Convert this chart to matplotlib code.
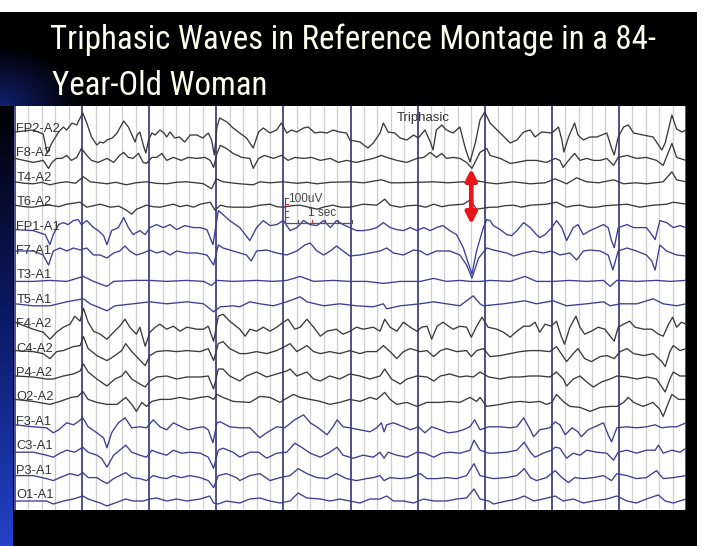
import matplotlib
matplotlib.use("Agg")
import matplotlib.pyplot as plt
import numpy as np
from matplotlib import font_manager
from matplotlib.patches import Rectangle
from matplotlib.colors import LinearSegmentedColormap

# ---------------- data ----------------
TITLE_LINE1 = "Triphasic Waves in Reference Montage in a 84-"
TITLE_LINE2 = "Year-Old Woman"

CHANNELS = ["FP2-A2", "F8-A2", "T4-A2", "T6-A2", "FP1-A1", "F7-A1", "T3-A1", "T5-A1",
            "F4-A2", "C4-A2", "P4-A2", "O2-A2", "F3-A1", "C3-A1", "P3-A1", "O1-A1"]

# (time s, amplitude uV)
FP2_A2 = [(0.00, 8), (0.27, 16), (0.42, 0), (0.48, -76), (0.55, -36), (0.65, 8), (0.72, 28), (0.77, 16), (0.85, 44), (0.92, 36), (0.97, 64), (1.01, 84), (1.07, 44), (1.14, -12), (1.22, -44), (1.27, -32), (1.32, -36), (1.37, -24), (1.45, -16), (1.52, 4), (1.57, 28), (1.62, 52), (1.69, 28), (1.79, -32), (1.82, -4), (1.86, 8), (1.92, -52), (1.95, -76), (1.99, -24), (2.04, 4), (2.09, -4), (2.16, 16), (2.22, 4), (2.26, -12), (2.31, 8), (2.38, -16), (2.45, -12), (2.53, -32), (2.61, -4), (2.71, -4), (2.80, -16), (2.88, 4), (2.93, -24), (2.97, -84), (3.01, 28), (3.05, 64), (3.16, 48), (3.25, 24), (3.35, 4), (3.45, -16), (3.55, -56), (3.63, 8), (3.70, 24), (3.80, 4), (3.90, 16), (3.97, 44), (4.05, 4), (4.12, 16), (4.20, 8), (4.30, 24), (4.37, 28), (4.47, 4), (4.55, 8), (4.65, 4), (4.74, 16), (4.84, 8), (4.94, 4), (4.99, -24), (5.14, -32), (5.26, -56), (5.34, -36), (5.44, 4), (5.49, 44), (5.56, 8), (5.66, 4), (5.74, -16), (5.84, -24), (5.94, -4), (6.01, -16), (6.11, 16), (6.19, -32), (6.23, -64), (6.28, 16), (6.36, 36), (6.43, 16), (6.53, 4), (6.63, 28), (6.71, -56), (6.78, -112), (6.86, -36), (6.93, 56), (7.00, 88), (7.08, 44), (7.23, 4), (7.38, -36), (7.48, -24), (7.58, 8), (7.68, 16), (7.75, -12), (7.85, 8), (8.00, 4), (8.10, 28), (8.15, -24), (8.18, -72), (8.25, -12), (8.34, 44), (8.39, -4), (8.47, -24), (8.57, -12), (8.67, -12), (8.82, 4), (8.89, -56), (8.93, -84), (8.99, -12), (9.07, 28), (9.14, 36), (9.22, 4), (9.36, -4), (9.51, -12), (9.64, -64), (9.69, -36), (9.79, 76), (9.86, 20), (9.94, 8), (10.00, 16)]
F8_A2 = [(0.00, 0), (0.27, -16), (0.42, -8), (0.50, -40), (0.55, -16), (0.62, 0), (0.70, 0), (0.77, 12), (0.84, -8), (0.92, 4), (0.99, 40), (1.07, 12), (1.14, -8), (1.24, -16), (1.37, 0), (1.47, -16), (1.56, 12), (1.62, 24), (1.69, 4), (1.76, 0), (1.84, 20), (1.91, -16), (1.96, -20), (2.04, 4), (2.11, 4), (2.19, 20), (2.26, -8), (2.36, 4), (2.48, -8), (2.58, 4), (2.71, 0), (2.83, 4), (2.91, -8), (2.96, -36), (3.01, 20), (3.06, 52), (3.15, 40), (3.25, 20), (3.38, 4), (3.50, 0), (3.55, -40), (3.63, 0), (3.72, 12), (3.85, 0), (3.97, 12), (4.07, -8), (4.17, 4), (4.30, 0), (4.42, 4), (4.55, -8), (4.70, 0), (4.82, -16), (4.94, -8), (5.09, -16), (5.21, -8), (5.34, 0), (5.46, 12), (5.54, 4), (5.69, -8), (5.84, -16), (5.99, 0), (6.09, 4), (6.19, 24), (6.28, 4), (6.36, 20), (6.43, 0), (6.53, 4), (6.63, 0), (6.73, -16), (6.81, -40), (6.93, 24), (7.03, 40), (7.08, 12), (7.23, 0), (7.38, -20), (7.48, -16), (7.63, -8), (7.77, -8), (7.92, -16), (8.05, 0), (8.12, -8), (8.17, -36), (8.25, -8), (8.34, 20), (8.42, -8), (8.52, 0), (8.62, -8), (8.72, -8), (8.82, 0), (8.92, -28), (8.99, 4), (9.12, 12), (9.26, 0), (9.41, 4), (9.56, -8), (9.66, -28), (9.79, 60), (9.86, 4), (10.00, -8)]
T4_A2 = [(0.00, 4), (0.14, -2), (0.27, -4), (0.40, 2), (0.52, -8), (0.65, 0), (0.77, 4), (0.90, -2), (1.02, 24), (1.12, 4), (1.25, 0), (1.37, -4), (1.50, 2), (1.66, -8), (1.80, 0), (1.96, 4), (2.10, -2), (2.26, -4), (2.40, 2), (2.56, 4), (2.70, 0), (2.81, -4), (2.93, -24), (3.00, 16), (3.10, 4), (3.22, 0), (3.35, -4), (3.55, -8), (3.65, 4), (3.80, 0), (4.00, 4), (4.20, -2), (4.35, 2), (4.50, -4), (4.70, 2), (4.99, 4), (5.20, 0), (5.46, 12), (5.60, 0), (5.74, 0), (6.00, 2), (6.24, 4), (6.45, 0), (6.68, 4), (6.78, -8), (6.88, 8), (7.05, 0), (7.18, -4), (7.43, 4), (7.68, -4), (7.90, 0), (8.05, 16), (8.22, -4), (8.37, 20), (8.52, 4), (8.70, 0), (8.92, 12), (9.07, -4), (9.25, 0), (9.41, -4), (9.66, 4), (9.79, 44), (9.86, 12), (10.00, 4)]
T6_A2 = [(0.00, 8), (0.14, 2), (0.27, 0), (0.40, 6), (0.52, 8), (0.65, 2), (0.77, 12), (0.97, 20), (1.07, 0), (1.17, 6), (1.27, 12), (1.42, 0), (1.55, 4), (1.66, -12), (1.74, -28), (1.81, -8), (1.96, 8), (2.06, 2), (2.16, 0), (2.26, 6), (2.36, 12), (2.46, 2), (2.56, 8), (2.66, 0), (2.76, 12), (2.91, 20), (2.98, -12), (3.06, 8), (3.15, 2), (3.25, 0), (3.50, 0), (3.65, 8), (3.80, 12), (3.90, 2), (4.00, 0), (4.12, 6), (4.25, 8), (4.38, 0), (4.50, -8), (4.62, 2), (4.74, 8), (4.86, 0), (4.99, 0), (5.19, 12), (5.39, 8), (5.51, 32), (5.59, 8), (5.74, 0), (5.86, 6), (5.99, 8), (6.12, 0), (6.24, 12), (6.36, 2), (6.48, 8), (6.68, 12), (6.78, 28), (6.88, -8), (7.08, 0), (7.18, 0), (7.30, 6), (7.43, 8), (7.55, 0), (7.68, 8), (7.92, 12), (8.07, 20), (8.22, 0), (8.32, 6), (8.42, 8), (8.55, 0), (8.67, 0), (8.80, 6), (8.92, 8), (9.12, 12), (9.31, 0), (9.51, 8), (9.71, 12), (9.81, 20), (10.00, 12)]
FP1_A1 = [(0.00, 8), (0.27, 4), (0.45, -12), (0.52, -52), (0.57, -12), (0.65, 28), (0.72, 36), (0.79, 28), (0.87, 44), (0.94, 48), (0.99, 28), (1.07, 44), (1.17, 16), (1.24, 4), (1.32, -16), (1.37, -52), (1.44, 4), (1.54, 16), (1.62, 56), (1.69, 16), (1.76, -12), (1.86, 4), (1.94, -12), (2.01, 16), (2.11, 28), (2.21, 16), (2.31, 28), (2.41, 8), (2.53, 24), (2.66, 16), (2.76, 16), (2.86, 8), (2.95, -52), (3.03, 84), (3.10, 68), (3.20, 44), (3.35, 16), (3.50, -36), (3.60, 16), (3.70, 44), (3.80, 24), (3.90, 28), (4.00, 44), (4.10, 4), (4.20, 16), (4.30, 44), (4.40, 28), (4.50, 24), (4.60, 44), (4.70, 16), (4.79, 44), (4.89, 28), (4.99, 16), (5.09, 4), (5.19, 4), (5.29, 8), (5.39, 16), (5.49, 36), (5.59, 16), (5.69, 8), (5.79, 4), (5.89, 16), (5.99, 4), (6.09, 16), (6.19, 4), (6.28, 16), (6.38, 24), (6.48, 4), (6.58, -12), (6.68, -64), (6.76, -130), (6.81, -170), (6.88, -76), (6.98, 16), (7.03, 48), (7.08, 44), (7.13, 24), (7.23, 8), (7.33, -12), (7.40, -16), (7.48, 4), (7.58, 36), (7.68, 16), (7.77, -12), (7.82, -24), (7.90, -12), (8.00, 16), (8.07, 44), (8.15, 16), (8.22, -36), (8.32, 16), (8.39, 28), (8.47, -12), (8.57, 4), (8.67, 16), (8.77, 28), (8.84, 16), (8.89, -36), (8.93, -64), (8.99, 16), (9.12, 28), (9.22, 16), (9.31, 16), (9.41, 16), (9.49, -12), (9.54, -32), (9.61, 44), (9.71, 36), (9.81, 16), (9.91, 24), (10.00, 16)]
F7_A1 = [(0.00, 20), (0.27, 20), (0.42, 4), (0.50, -36), (0.57, 20), (0.67, 32), (0.77, 20), (0.87, 32), (0.97, 24), (1.07, 32), (1.17, 4), (1.27, 4), (1.37, -8), (1.47, 12), (1.56, 20), (1.64, 40), (1.71, 20), (1.81, 4), (1.91, 12), (2.01, 24), (2.11, 12), (2.21, 20), (2.31, 4), (2.41, 20), (2.56, 12), (2.71, 12), (2.86, 4), (2.96, -36), (3.03, 44), (3.10, 32), (3.25, 20), (3.45, 4), (3.52, -20), (3.60, 20), (3.75, 24), (3.90, 12), (4.05, 4), (4.20, 20), (4.32, 44), (4.40, 52), (4.50, 20), (4.60, 4), (4.70, 20), (4.79, 40), (4.89, 20), (4.99, 0), (5.14, 4), (5.29, 12), (5.44, 20), (5.54, 32), (5.64, 12), (5.79, 4), (5.94, 24), (6.04, 20), (6.14, 4), (6.28, 20), (6.48, 20), (6.63, 4), (6.73, -36), (6.81, -88), (6.91, -8), (7.03, 32), (7.13, 24), (7.33, 12), (7.43, 0), (7.58, 12), (7.73, 20), (7.87, 12), (8.00, 20), (8.12, 4), (8.27, 12), (8.37, -16), (8.47, 20), (8.57, 24), (8.72, 20), (8.84, 4), (8.91, -56), (8.99, 20), (9.12, 32), (9.26, 20), (9.41, 4), (9.49, -20), (9.54, -56), (9.61, 44), (9.71, 20), (9.86, 4), (10.00, 0)]
T3_A1 = [(0.00, -4), (0.27, -4), (0.52, 0), (0.77, -4), (1.02, 16), (1.17, -4), (1.37, -24), (1.47, -4), (1.76, 0), (2.01, 0), (2.26, -4), (2.56, 0), (2.81, -4), (2.93, -20), (3.01, 0), (3.25, -4), (3.60, 0), (3.85, -4), (4.05, 0), (4.25, 16), (4.45, -4), (4.74, 0), (4.99, -4), (5.24, -4), (5.49, -12), (5.74, -4), (6.04, -4), (6.24, 8), (6.43, -4), (6.63, 0), (6.78, -4), (6.93, -4), (7.08, 0), (7.38, -4), (7.60, 16), (7.77, -4), (8.02, -4), (8.27, 0), (8.52, -4), (8.77, 0), (8.87, -24), (8.97, 0), (9.27, -4), (9.56, 0), (9.76, -4), (10.00, 0)]
T5_A1 = [(0.00, 4), (0.27, -4), (0.52, -4), (0.77, 12), (1.02, 24), (1.12, 4), (1.37, -24), (1.49, -4), (1.76, 4), (2.01, 12), (2.26, 4), (2.56, 12), (2.81, 4), (2.96, -28), (3.06, -8), (3.25, -4), (3.35, -8), (3.50, 12), (3.65, 4), (3.85, -4), (4.05, 12), (4.25, 32), (4.35, 12), (4.60, -4), (4.84, 4), (5.09, -4), (5.34, -8), (5.49, 4), (5.54, -16), (5.74, -4), (6.04, 4), (6.24, 12), (6.43, 4), (6.63, -4), (6.83, 36), (6.93, 4), (6.98, -4), (7.28, 4), (7.60, 16), (7.77, 4), (8.02, 16), (8.22, -4), (8.52, 4), (8.77, 12), (8.87, -4), (9.02, 4), (9.27, 4), (9.51, 24), (9.66, 4), (9.86, -4), (10.00, 4)]
F4_A2 = [(0.00, 28), (0.27, 0), (0.42, -12), (0.52, -40), (0.62, -12), (0.72, 8), (0.82, 20), (0.89, 52), (0.97, 32), (1.02, 84), (1.09, 28), (1.17, -8), (1.27, -20), (1.37, -40), (1.47, -12), (1.56, 12), (1.64, 40), (1.71, 8), (1.81, -20), (1.86, 8), (1.94, -68), (2.01, -12), (2.09, 8), (2.16, 20), (2.26, 0), (2.36, 12), (2.46, -8), (2.56, 8), (2.71, 0), (2.81, 0), (2.88, 12), (2.96, -48), (3.03, 52), (3.10, 60), (3.20, 32), (3.35, 0), (3.43, -28), (3.50, 0), (3.60, -8), (3.70, 8), (3.80, -8), (3.90, 8), (4.00, 28), (4.07, 40), (4.17, 0), (4.25, 8), (4.35, 40), (4.45, 8), (4.55, -28), (4.65, -8), (4.79, 0), (4.89, -20), (4.99, -8), (5.09, 8), (5.19, 0), (5.34, 8), (5.44, -8), (5.51, 40), (5.59, 8), (5.69, -8), (5.79, 28), (5.89, 8), (5.99, -8), (6.06, 8), (6.14, 12), (6.21, -40), (6.29, 12), (6.38, 28), (6.46, 12), (6.53, 0), (6.63, 12), (6.73, 8), (6.80, -32), (6.88, 12), (6.96, 48), (7.05, 8), (7.18, 0), (7.28, -12), (7.38, -32), (7.48, -8), (7.58, 12), (7.67, 12), (7.75, 28), (7.82, -12), (7.90, 20), (7.99, 12), (8.07, 32), (8.14, -28), (8.19, -60), (8.27, 8), (8.36, 52), (8.42, 8), (8.49, -20), (8.59, -8), (8.69, 8), (8.79, 0), (8.87, -28), (8.93, -48), (8.99, 8), (9.07, 20), (9.16, 32), (9.24, 8), (9.37, 0), (9.49, 0), (9.59, -20), (9.66, -28), (9.74, 20), (9.80, 48), (9.86, 8), (9.93, 28), (10.00, 20)]
C4_A2 = [(0.00, 12), (0.27, 8), (0.42, 0), (0.52, -20), (0.62, 8), (0.72, 12), (0.87, 28), (0.97, 32), (1.02, 68), (1.09, 20), (1.22, -8), (1.37, -28), (1.49, -8), (1.59, 12), (1.65, 40), (1.74, 8), (1.84, -20), (1.94, -48), (2.01, -8), (2.11, 8), (2.26, 12), (2.41, 8), (2.56, 12), (2.76, 8), (2.88, 20), (2.96, -28), (3.03, 40), (3.10, 48), (3.20, 20), (3.35, 0), (3.45, 0), (3.60, 8), (3.75, 0), (3.90, 12), (4.02, 28), (4.10, 40), (4.20, 8), (4.35, 32), (4.45, 8), (4.55, 0), (4.69, 8), (4.84, 0), (4.99, 12), (5.14, 0), (5.24, 8), (5.39, 8), (5.49, 32), (5.59, 8), (5.69, -20), (5.79, 8), (5.89, 20), (6.04, 8), (6.14, 12), (6.24, -12), (6.34, 12), (6.43, 20), (6.58, 8), (6.73, 12), (6.80, -12), (6.88, 12), (6.98, 20), (7.08, -12), (7.23, -8), (7.38, 0), (7.53, 8), (7.67, 12), (7.82, 12), (7.97, 8), (8.07, 28), (8.17, -12), (8.22, -32), (8.32, 0), (8.39, 20), (8.49, -20), (8.59, -32), (8.72, -12), (8.82, -8), (8.93, -20), (9.02, 8), (9.12, 20), (9.22, 0), (9.37, -8), (9.51, 0), (9.64, -32), (9.69, -52), (9.76, 8), (9.81, 32), (9.91, 12), (10.00, 20)]
P4_A2 = [(0.00, 8), (0.27, 4), (0.47, -4), (0.57, -4), (0.72, 8), (0.87, 16), (0.97, 28), (1.02, 56), (1.09, 24), (1.22, -4), (1.37, -32), (1.49, -4), (1.59, 8), (1.65, 28), (1.74, -4), (1.86, -24), (1.94, -36), (2.01, -12), (2.11, 4), (2.26, 8), (2.41, -4), (2.56, 4), (2.76, 4), (2.88, 8), (2.96, -44), (3.03, 36), (3.10, 36), (3.20, 8), (3.35, -12), (3.45, 8), (3.60, 24), (3.75, 4), (3.90, 16), (4.05, 28), (4.10, 36), (4.20, 8), (4.35, 24), (4.45, -4), (4.55, -12), (4.69, 8), (4.84, -4), (4.99, 16), (5.14, 8), (5.29, -4), (5.44, 8), (5.51, 36), (5.61, -4), (5.74, -24), (5.84, -4), (5.99, 8), (6.14, 4), (6.24, -12), (6.34, 8), (6.48, 16), (6.63, 4), (6.73, 8), (6.83, 4), (6.93, 24), (7.06, 4), (7.23, -4), (7.38, 4), (7.53, 4), (7.67, 8), (7.82, 8), (7.97, 4), (8.07, 24), (8.17, -4), (8.22, -32), (8.32, -4), (8.42, 8), (8.52, -16), (8.62, -36), (8.74, -16), (8.87, -4), (8.97, 8), (9.12, 4), (9.27, -4), (9.42, 4), (9.56, -4), (9.64, -36), (9.69, -56), (9.76, -4), (9.81, 24), (9.91, 8), (10.00, 8)]
O2_A2 = [(0.00, 12), (0.27, 4), (0.52, -8), (0.67, 4), (0.84, 20), (0.94, 24), (1.01, 44), (1.09, 12), (1.22, 0), (1.37, -8), (1.52, -8), (1.65, 20), (1.74, -8), (1.81, -36), (1.89, 0), (1.96, -16), (2.04, 4), (2.16, 12), (2.31, 12), (2.46, 20), (2.61, 12), (2.76, 20), (2.88, 24), (2.96, 12), (3.01, 32), (3.10, 20), (3.25, 4), (3.50, 0), (3.65, 24), (3.80, 20), (3.95, 0), (4.02, 12), (4.15, 32), (4.25, 20), (4.40, 12), (4.55, 4), (4.69, -8), (4.84, 0), (4.99, 12), (5.14, 4), (5.29, 20), (5.39, 12), (5.51, 40), (5.59, 12), (5.69, -8), (5.84, 0), (5.99, -16), (6.14, 0), (6.34, 0), (6.48, 4), (6.63, 0), (6.78, 20), (6.88, 4), (6.93, 20), (7.03, -16), (7.23, -8), (7.38, 0), (7.53, 4), (7.68, 0), (7.82, 4), (7.92, -8), (8.00, 0), (8.07, 32), (8.17, 4), (8.27, -16), (8.42, -20), (8.57, -36), (8.72, -20), (8.87, -16), (8.97, -16), (9.07, 0), (9.14, 20), (9.22, 0), (9.36, -16), (9.51, 0), (9.61, -28), (9.66, -56), (9.74, 0), (9.79, 32), (9.89, 12), (10.00, 12)]
F3_A1 = [(0.00, 8), (0.27, 0), (0.47, -4), (0.57, -24), (0.65, -12), (0.77, 16), (0.87, 8), (0.94, 20), (1.01, 36), (1.09, 0), (1.22, -24), (1.32, -44), (1.37, -84), (1.44, -24), (1.54, 16), (1.64, 36), (1.74, -4), (1.86, 0), (1.96, -4), (2.06, 28), (2.16, 0), (2.26, -12), (2.36, 16), (2.48, 0), (2.58, -12), (2.71, -4), (2.81, 0), (2.88, -12), (2.95, -64), (3.01, 16), (3.06, 20), (3.20, 0), (3.35, -4), (3.50, -4), (3.65, -44), (3.75, -24), (3.90, 0), (4.02, -4), (4.17, 28), (4.30, 48), (4.40, 16), (4.52, -4), (4.65, -32), (4.74, 0), (4.80, 28), (4.89, 0), (4.99, -4), (5.14, -12), (5.29, -20), (5.39, -4), (5.46, 16), (5.50, -20), (5.54, 8), (5.64, 16), (5.79, 0), (5.89, -12), (6.01, 0), (6.11, -24), (6.21, 0), (6.34, -12), (6.46, -24), (6.58, -20), (6.68, -12), (6.78, 0), (6.85, 28), (6.93, -12), (7.06, 0), (7.23, 0), (7.38, -4), (7.48, 0), (7.58, 36), (7.68, -12), (7.73, -40), (7.82, -12), (7.97, -4), (8.05, 20), (8.12, 8), (8.20, -32), (8.30, -4), (8.39, -20), (8.44, -40), (8.54, -12), (8.64, 0), (8.77, 16), (8.84, -32), (8.89, -60), (8.97, -4), (9.12, 0), (9.26, -4), (9.41, 0), (9.54, 8), (9.64, -4), (9.76, 0), (9.86, 0), (10.00, 16)]
C3_A1 = [(0.00, -4), (0.27, -4), (0.47, -16), (0.57, -24), (0.67, -8), (0.77, 4), (0.89, -4), (1.01, 16), (1.09, -4), (1.22, -16), (1.29, -28), (1.37, -64), (1.47, -16), (1.56, 4), (1.65, 24), (1.74, -4), (1.86, -16), (1.96, -24), (2.04, 4), (2.11, -4), (2.26, -16), (2.36, 4), (2.48, -8), (2.61, -4), (2.76, -8), (2.88, -24), (2.96, -68), (3.03, 4), (3.10, 12), (3.25, -4), (3.35, -24), (3.50, -4), (3.63, -4), (3.75, -28), (3.90, -8), (4.05, -4), (4.17, 32), (4.27, 16), (4.40, -8), (4.55, -24), (4.69, -4), (4.80, 16), (4.89, -16), (5.04, -28), (5.19, -16), (5.34, -24), (5.44, -4), (5.50, -28), (5.56, -4), (5.69, -16), (5.84, -24), (5.99, -4), (6.11, -8), (6.24, -24), (6.36, -8), (6.48, -4), (6.63, -8), (6.78, 4), (6.84, 44), (6.93, 4), (7.06, -8), (7.13, -8), (7.33, -4), (7.48, 4), (7.59, 36), (7.68, -4), (7.75, -24), (7.87, -8), (8.00, 4), (8.05, 16), (8.12, 12), (8.22, -28), (8.32, -8), (8.42, -16), (8.52, 4), (8.67, -4), (8.82, -8), (8.92, -36), (8.99, -4), (9.12, 4), (9.26, -8), (9.41, 4), (9.54, 4), (9.59, 24), (9.66, -8), (9.79, 4), (9.91, -4), (10.00, 12)]
P3_A1 = [(0.00, 0), (0.27, 0), (0.47, -12), (0.57, -20), (0.67, -8), (0.82, 8), (0.94, 0), (1.01, 12), (1.09, -8), (1.22, -8), (1.29, -20), (1.37, -32), (1.47, -12), (1.56, 0), (1.65, 12), (1.74, -8), (1.86, -12), (1.96, -20), (2.06, 0), (2.16, -8), (2.26, -12), (2.36, 0), (2.48, -8), (2.61, 0), (2.76, -8), (2.88, -20), (2.96, -48), (3.03, 0), (3.15, 8), (3.30, -8), (3.35, -20), (3.50, 0), (3.65, 8), (3.80, -20), (3.95, -8), (4.10, 0), (4.22, 28), (4.35, 8), (4.50, -8), (4.65, -12), (4.79, 8), (4.94, -12), (5.09, -20), (5.24, -12), (5.34, -8), (5.44, 0), (5.50, -20), (5.59, -8), (5.74, -12), (5.89, -8), (6.04, 8), (6.14, -12), (6.29, -12), (6.43, -8), (6.58, -12), (6.73, 0), (6.84, 48), (6.93, 0), (7.06, -8), (7.13, -12), (7.33, -8), (7.48, 0), (7.59, 28), (7.68, -8), (7.77, -20), (7.92, -8), (8.05, 20), (8.15, -8), (8.25, -28), (8.34, -8), (8.47, -12), (8.62, -8), (8.77, 0), (8.89, -20), (8.97, 8), (9.12, 0), (9.26, -12), (9.41, -8), (9.56, 20), (9.66, -12), (9.81, -8), (10.00, 0)]
O1_A1 = [(0.00, -4), (0.27, -4), (0.47, -4), (0.57, -16), (0.72, -4), (0.87, 4), (1.01, 16), (1.09, 4), (1.27, -12), (1.37, -24), (1.49, -12), (1.65, 4), (1.76, -4), (1.91, -4), (2.01, 4), (2.11, 8), (2.26, -4), (2.41, 4), (2.56, -4), (2.76, 4), (2.90, 16), (2.96, -12), (3.03, -16), (3.15, -4), (3.35, -12), (3.50, 4), (3.65, 8), (3.80, -4), (3.95, -12), (4.10, -4), (4.22, 28), (4.35, 8), (4.55, 4), (4.69, -4), (4.84, 4), (4.99, -4), (5.14, -12), (5.29, 4), (5.44, 4), (5.54, 16), (5.64, -4), (5.79, -4), (5.94, -12), (6.09, 4), (6.24, -4), (6.43, -4), (6.58, 4), (6.73, 8), (6.84, 44), (6.93, 4), (7.06, -4), (7.13, -16), (7.33, -4), (7.48, 4), (7.59, 16), (7.73, -4), (7.87, 4), (8.05, 16), (8.17, -4), (8.32, 4), (8.47, -12), (8.62, -4), (8.82, 4), (8.97, 16), (9.12, -4), (9.26, -12), (9.41, 4), (9.54, 16), (9.59, 20), (9.69, -4), (9.81, -12), (10.00, 4)]

TRACES = {"FP2-A2": FP2_A2, "F8-A2": F8_A2, "T4-A2": T4_A2, "T6-A2": T6_A2,
          "FP1-A1": FP1_A1, "F7-A1": F7_A1, "T3-A1": T3_A1, "T5-A1": T5_A1,
          "F4-A2": F4_A2, "C4-A2": C4_A2, "P4-A2": P4_A2, "O2-A2": O2_A2,
          "F3-A1": F3_A1, "C3-A1": C3_A1, "P3-A1": P3_A1, "O1-A1": O1_A1}

MARK_LABEL = "Triphasic"
MARK_TIME = 6.80          # s, position of the marked triphasic complex
CAL_LABEL_V = "100uV"
CAL_LABEL_T = "1 sec"
CAL_UV = 100
CAL_SEC = 1.0
N_SECONDS = 10

# ---------------- figure ----------------
W, H = 728, 546
DPI = 100
fig = plt.figure(figsize=(W / DPI, H / DPI), dpi=DPI)
fig.patch.set_facecolor("white")


def find_font(name, stretch="normal"):
    try:
        path = font_manager.findfont(font_manager.FontProperties(family=name, stretch=stretch),
                                     fallback_to_default=False)
        return path
    except Exception:
        return None


title_prop = None
for fam, st in [("Liberation Sans Narrow", "normal"), ("Arial Narrow", "normal"),
                ("Roboto Condensed", "normal"), ("Open Sans Condensed", "normal"),
                ("Noto Sans", "condensed"), ("DejaVu Sans", "condensed"), ("Liberation Sans", "normal")]:
    p = find_font(fam, st)
    if p is None:
        continue
    low = p.lower()
    if st == "condensed" and "condensed" not in low:
        continue
    title_prop = font_manager.FontProperties(fname=p)
    break
if title_prop is None:
    title_prop = font_manager.FontProperties(family="DejaVu Sans")

label_font = "Liberation Sans" if find_font("Liberation Sans") else "DejaVu Sans"

# slide background (pixel coordinates)
bg = fig.add_axes([0, 0, 1, 1])
bg.axis("off")
bg.add_patch(Rectangle((0, 12), 697, H - 12, facecolor="black", edgecolor="none", zorder=0))
grad = np.linspace(0, 1, 256).reshape(-1, 1)
cmap_strip = LinearSegmentedColormap.from_list("strip", ["#000000", "#0b1a66", "#2342c8"])
bg.imshow(grad, extent=(0, 13, H, 92), cmap=cmap_strip, aspect="auto", zorder=1, origin="upper")
yy, xx = np.mgrid[0:60, 0:80]
dist = np.sqrt((xx / 80.0) ** 2 + ((59 - yy) / 60.0) ** 2)
glow = np.zeros((60, 80, 4))
glow[..., 0] = 0.08
glow[..., 1] = 0.16
glow[..., 2] = 0.55
glow[..., 3] = np.clip(1 - dist, 0, 1) * 0.8
bg.imshow(glow, extent=(0, 80, 106, 46), aspect="auto", zorder=1, origin="upper")
bg.set_xlim(0, W)
bg.set_ylim(H, 0)

# title, sized so the first line spans the width used in the reference
t1 = bg.text(50, 49, TITLE_LINE1, color="#FFFFEE", fontproperties=title_prop, va="baseline", ha="left", zorder=3)
t1.set_fontsize(26)
fig.canvas.draw()
w1 = t1.get_window_extent(fig.canvas.get_renderer()).width
fs = 26 * 606.0 / w1
t1.set_fontsize(fs)
t2 = bg.text(52, 95, TITLE_LINE2, color="#FFFFEE", fontproperties=title_prop, va="baseline", ha="left", zorder=3)
t2.set_fontsize(fs)

# EEG panel
PX_PER_S = 67.1
UV_PER_PX = 4.0
panel_l, panel_r, panel_t, panel_b = 14, 686, 106, 510
ax = fig.add_axes([panel_l / W, (H - panel_b) / H, (panel_r - panel_l) / W, (panel_b - panel_t) / H])
ax.set_facecolor("white")
ax.set_xlim(N_SECONDS - (panel_r - panel_l) / PX_PER_S, N_SECONDS)
ax.set_ylim((panel_b - panel_t) * UV_PER_PX, 0)
for s in ax.spines.values():
    s.set_visible(False)
ax.set_xticks([])
ax.set_yticks([])

for k in range(N_SECONDS * 5 + 1):
    t = k * 0.2
    if k % 5 == 0:
        ax.axvline(t, color="#50508c", lw=1.4, zorder=2)
    else:
        ax.axvline(t, color="#cfcfcf", lw=0.9, zorder=1)

spacing = 24.4 * UV_PER_PX
first = 28 * UV_PER_PX
for i, ch in enumerate(CHANNELS):
    base = first + i * spacing
    tt = np.array([p[0] for p in TRACES[ch]])
    vv = np.array([p[1] for p in TRACES[ch]])
    col = "#3a3a3a" if ch.endswith("A2") else "#3d3d95"
    ax.plot(tt, base - vv, color=col, lw=0.95, zorder=3, solid_joinstyle="round")
    ax.text(0.02, base - 20, ch, fontsize=9.3, family=label_font, color="#333333",
            ha="left", va="center", zorder=4)

# marker label and arrow
ax.text(6.08, 48, MARK_LABEL, fontsize=9.5, family=label_font, color="#333333", ha="center", va="center", zorder=4)
ax.annotate("", xy=(MARK_TIME, 250), xytext=(MARK_TIME, 474),
            arrowprops=dict(arrowstyle="<|-|>", color="#e8161c", lw=3.4, mutation_scale=16,
                            shrinkA=0, shrinkB=0), zorder=5)

# calibration mark
cal_t0 = 4.02
cal_y0 = 468
ax.plot([cal_t0, cal_t0, cal_t0 + CAL_SEC], [cal_y0 - CAL_UV, cal_y0, cal_y0], color="#555555", lw=0.9, zorder=4)
for k in range(1, 6):
    tk = cal_t0 + k * CAL_SEC / 5
    ax.plot([tk, tk], [cal_y0, cal_y0 - 14], color="#c04040" if k == 2 else "#555555", lw=0.8, zorder=4)
for k in range(0, 5):
    yk = cal_y0 - CAL_UV + k * CAL_UV / 4
    ax.plot([cal_t0, cal_t0 + 0.05], [yk, yk], color="#c03030" if k in (1, 3) else "#555555", lw=0.8, zorder=4)
ax.text(cal_t0 + 0.05, cal_y0 - CAL_UV + 4, CAL_LABEL_V, fontsize=8.5, family=label_font, color="#444444",
        ha="left", va="center", zorder=4)
ax.text(cal_t0 + 0.35, cal_y0 - 40, CAL_LABEL_T, fontsize=8.5, family=label_font, color="#444444",
        ha="left", va="center", zorder=4)

fig.savefig("out.png", dpi=DPI, facecolor=fig.get_facecolor())
